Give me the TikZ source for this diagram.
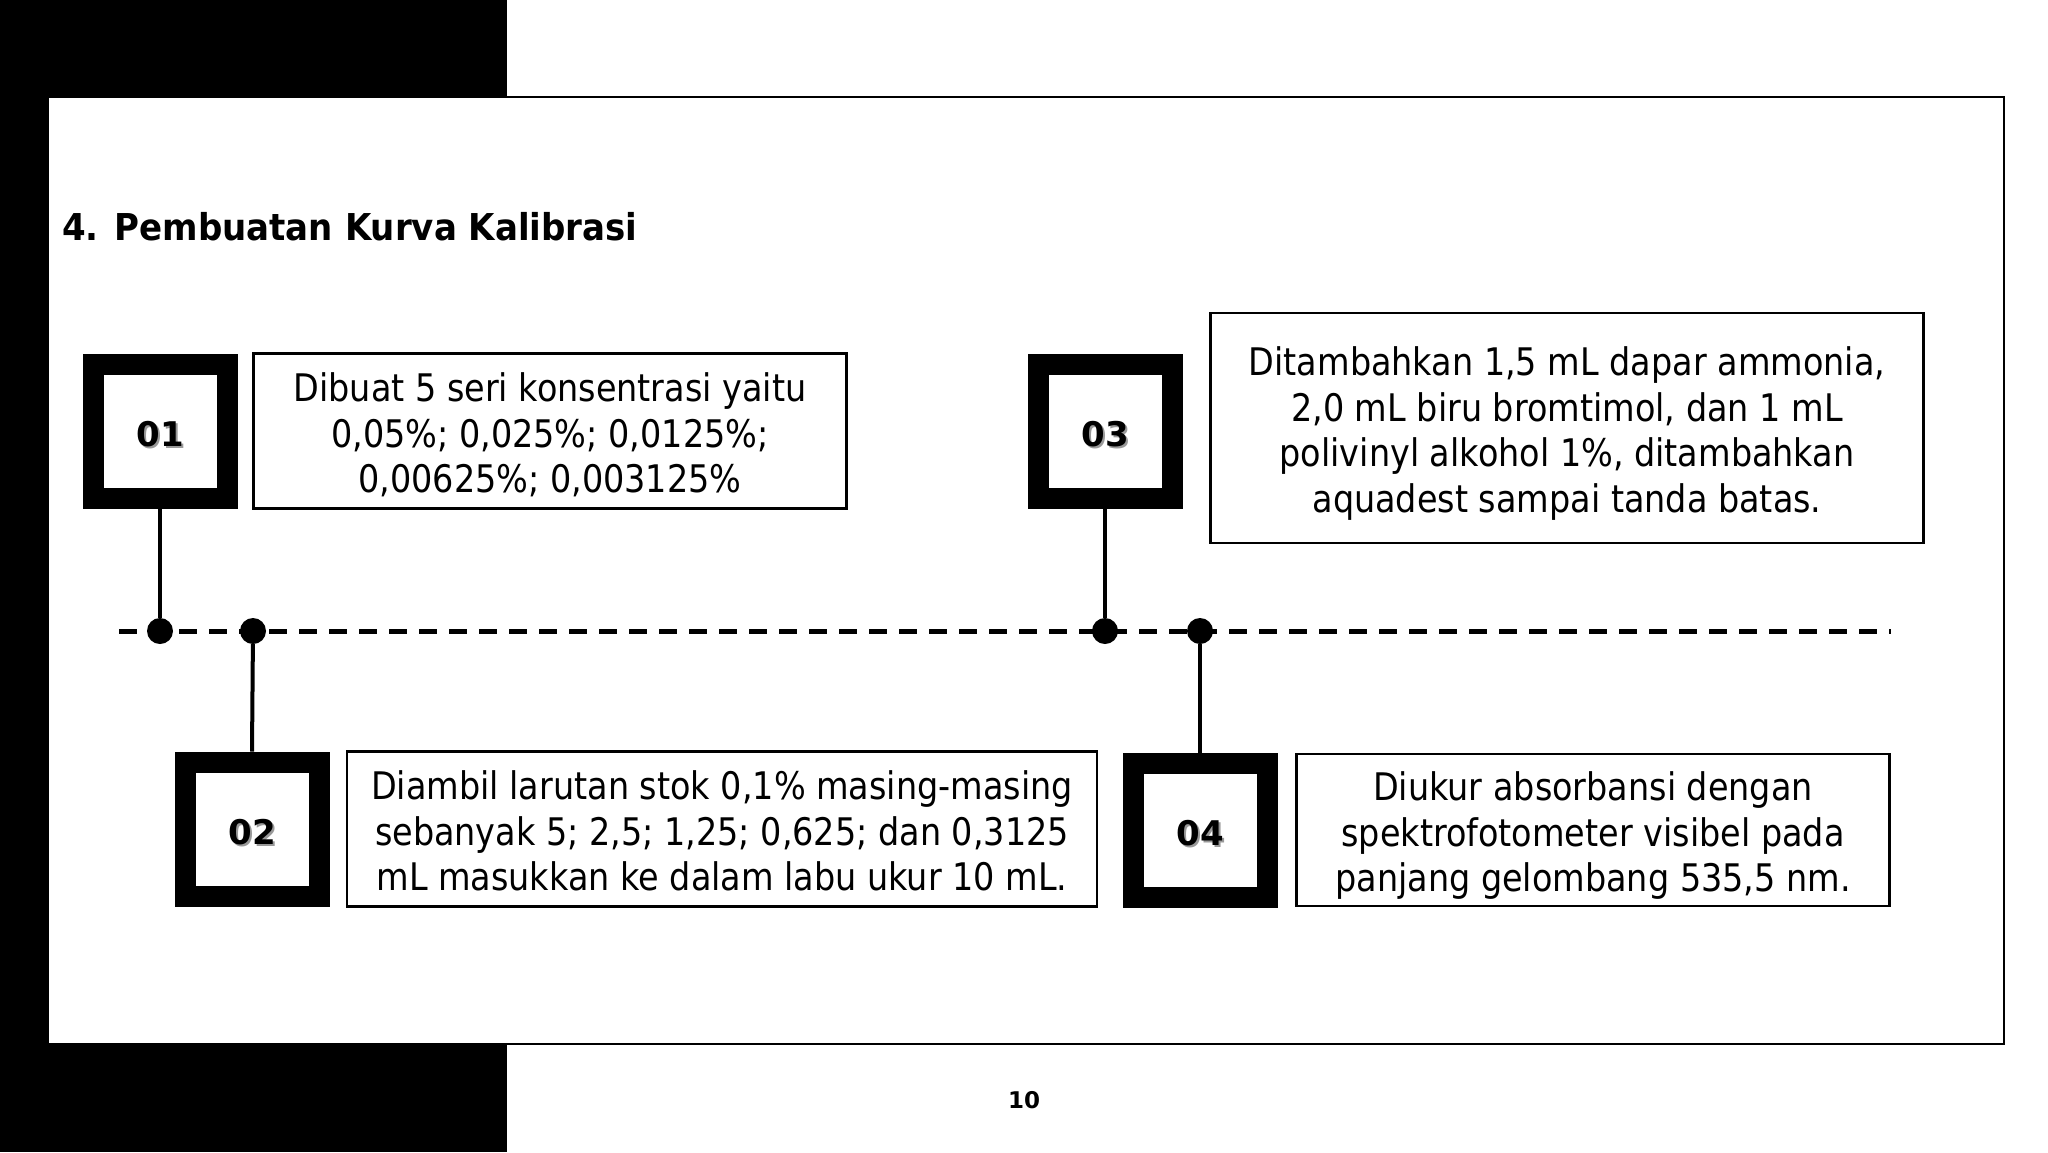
\documentclass[tikz,border=0pt]{standalone}
\usepackage{fontspec}
\setmainfont{DejaVu Sans}[FakeStretch=0.88]
\newfontfamily\titlefont{DejaVu Sans}[FakeStretch=0.92]
\newfontfamily\numfont{DejaVu Sans}
\newcommand{\shnum}[1]{\raisebox{-4pt}[\height][\depth]{\rlap{\kern2.5pt\raisebox{-2.5pt}{\textcolor{black!40}{#1}}}#1}}
\newcommand{\boxtext}[2]{\raisebox{-#1pt}[\height][\depth]{\begin{tabular}{@{}c@{}}#2\end{tabular}}}
\tikzset{
  numbox/.style={draw=black, line width=21pt, fill=white, minimum size=134pt, inner sep=0pt,
    font=\numfont\bfseries\fontsize{34}{40}\selectfont},
  txtbox/.style={draw=black, line width=2.5pt, fill=white, inner sep=0pt,
    font=\fontsize{38}{45.7}\selectfont},
  dotnode/.style={circle, fill=black, minimum size=26pt, inner sep=0pt},
  stem/.style={line width=4pt},
  timeline/.style={line width=5pt, dash pattern=on 18pt off 12pt},
}
\begin{document}
\begin{tikzpicture}[x=1pt,y=-1pt]
\useasboundingbox (0,0) rectangle (2048,1152);
\fill[white] (0,0) rectangle (2048,1152);
\fill[black] (0,0) rectangle (507,1152);
\draw[line width=2.5pt, fill=white] (48,97) rectangle (2004,1044);

\node[anchor=base west, inner sep=0pt, font=\titlefont\bfseries\fontsize{37}{44}\selectfont] (title) at (62,240) {4. Pembuatan Kurva Kalibrasi};

\node[numbox] (n1) at (160,431) {\shnum{01}};
\node[numbox] (n2) at (252,829) {\shnum{02}};
\node[numbox] (n3) at (1105,431) {\shnum{03}};
\node[numbox] (n4) at (1200,830) {\shnum{04}};

\node[txtbox, minimum width=593pt, minimum height=155pt] (t1) at (550,431)
  {\boxtext{7}{Dibuat 5 seri konsentrasi yaitu\\0,05\%; 0,025\%; 0,0125\%;\\0,00625\%; 0,003125\%}};
\node[txtbox, minimum width=750pt, minimum height=155pt] (t2) at (722,829)
  {\boxtext{7}{Diambil larutan stok 0,1\% masing-masing\\sebanyak 5; 2,5; 1,25; 0,625; dan 0,3125\\mL masukkan ke dalam labu ukur 10 mL.}};
\node[txtbox, minimum width=713pt, minimum height=230pt] (t3) at (1567,428)
  {\boxtext{7}{Ditambahkan 1,5 mL dapar ammonia,\\2,0 mL biru bromtimol, dan 1 mL\\polivinyl alkohol 1\%, ditambahkan\\aquadest sampai tanda batas.}};
\node[txtbox, minimum width=593pt, minimum height=152pt] (t4) at (1593,830)
  {\boxtext{7}{Diukur absorbansi dengan\\spektrofotometer visibel pada\\panjang gelombang 535,5 nm.}};

\coordinate (tl) at (119,631);
\coordinate (tr) at (1891,631);
\draw[timeline] (tl) -- (tr);

\node[dotnode] (d1) at (160,631) {};
\node[dotnode] (d2) at (253,631) {};
\node[dotnode] (d3) at (1105,631) {};
\node[dotnode] (d4) at (1200,631) {};

\draw[stem] (n1.south) -- (d1);
\draw[stem] (n2.north) -- (d2);
\draw[stem] (n3.south) -- (d3);
\draw[stem] (n4.north) -- (d4);

\node[font=\numfont\bfseries\fontsize{23}{28}\selectfont, inner sep=0pt] (pg) at (1024,1100) {10};
\end{tikzpicture}
\end{document}
